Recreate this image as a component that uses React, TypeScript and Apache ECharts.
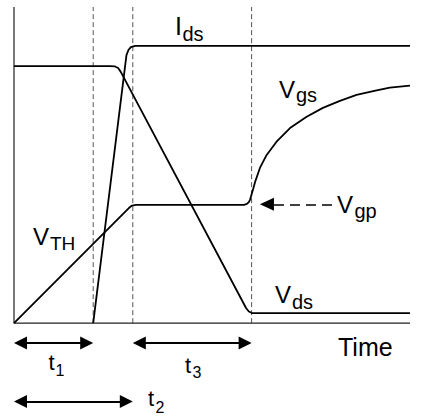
import React, { useEffect, useRef } from "react";
import * as echarts from "echarts";

// ---- data (time units 0..100, level units 0..100) ----
const phaseMarks = [20, 30, 60]; // end of t1, end of t2 (start of t3), end of t3

const vds: [number, number][] = [
  [0, 81.3], [24.2, 81.3], [25.5, 81.2], [26.3, 80.7], [27.0, 79.4],
  [58.6, 4.8], [59.3, 3.7], [60.1, 3.2], [100, 3.2],
];

const ids: [number, number][] = [
  [20, 0], [28.4, 84.8], [28.9, 86.4], [29.5, 87.3], [30.6, 87.7], [100, 87.7],
];

const vgs: [number, number][] = [
  [0, 0], [29.0, 36.4], [29.8, 37.2], [30.8, 37.4], [58.1, 37.4], [58.8, 37.7],
  [59.3, 38.3], [59.6, 39.0], [60.3, 42.0], [60.9, 44.7], [62.1, 49.1], [63.8, 53.2],
  [66.3, 57.4], [69.7, 61.7], [73.9, 65.3], [78.0, 68.1], [82.3, 70.3],
  [86.5, 72.2], [90.7, 73.4], [94.9, 74.5], [100, 75.1],
];

const axisFrame: [number, number][] = [[0, 100], [0, 0], [100, 0]];

const vgpLevel = 37.6;
const vgpArrowFrom = 80.3;
const vgpArrowTo = 62.1;

const spans = [
  { from: 0, to: 20, level: -6.3 },
  { from: 30, to: 60, level: -6.3 },
  { from: 0, to: 30, level: -24.8 },
];

// ---- layout ----
const W = 435, H = 418;
const GRID = { left: 14, right: 25, top: 7, bottom: 0 };
const X_MIN = 0, X_MAX = 100, Y_MIN = -30, Y_MAX = 100;
const pxPerX = (W - GRID.left - GRID.right) / (X_MAX - X_MIN);
const HEAD = 13;
const inset = HEAD / 2 / pxPerX;

const FONT = '"Liberation Sans", Arial, Helvetica, sans-serif';

type Lbl = { text: string; x: number; base: number; fs: number };
const labels: Lbl[] = [
  { text: "I", x: 175, base: 34.5, fs: 25 },
  { text: "ds", x: 182.5, base: 40.5, fs: 20 },
  { text: "V", x: 279, base: 97.5, fs: 24 },
  { text: "gs", x: 296, base: 102, fs: 20 },
  { text: "V", x: 337, base: 213, fs: 24 },
  { text: "gp", x: 354.5, base: 217.5, fs: 20 },
  { text: "V", x: 33, base: 245, fs: 24 },
  { text: "TH", x: 50, base: 250, fs: 19 },
  { text: "V", x: 275, base: 303, fs: 24 },
  { text: "ds", x: 292, base: 309, fs: 20 },
  { text: "Time", x: 338, base: 355.5, fs: 25 },
  { text: "t", x: 48.5, base: 370, fs: 22 },
  { text: "1", x: 55.5, base: 376, fs: 16 },
  { text: "t", x: 185, base: 373, fs: 22 },
  { text: "3", x: 192.5, base: 378, fs: 16 },
  { text: "t", x: 148, base: 406.5, fs: 22 },
  { text: "2", x: 155.5, base: 413, fs: 16 },
];

const curveStyle = { color: "#000", width: 1.8 };

export default function App() {
  const ref = useRef<HTMLDivElement>(null);
  useEffect(() => {
    if (!ref.current) return;
    const chart = echarts.init(ref.current, undefined, { renderer: "svg" });
    const lineSeries = (name: string, data: [number, number][], style: any, z = 3) => ({
      name,
      type: "line",
      data,
      symbol: "none",
      silent: true,
      z,
      lineStyle: style,
    });
    const series: any[] = [
      {
        ...lineSeries("axes", axisFrame, { color: "#222", width: 1.2 }, 2),
        markLine: {
          silent: true,
          animation: false,
          symbolSize: [HEAD, HEAD],
          label: { show: false },
          lineStyle: { color: "#000", width: 1.8, type: "solid" },
          data: [
            ...spans.map((s) => [
              { coord: [s.from + inset, s.level], symbol: "triangle" },
              { coord: [s.to - inset, s.level], symbol: "triangle" },
            ]),
            [
              { coord: [vgpArrowFrom, vgpLevel], symbol: "none" },
              {
                coord: [vgpArrowTo + 14 / 2 / pxPerX, vgpLevel],
                symbol: "triangle",
                symbolSize: [13, 14],
              },
            ],
          ],
        },
      },
      ...phaseMarks.map((t, i) =>
        lineSeries("phase" + i, [[t, 0], [t, 100]], { color: "#555", width: 1, type: [5, 3] }, 1)
      ),
      lineSeries("Vds", vds, curveStyle),
      lineSeries("Ids", ids, curveStyle),
      lineSeries("Vgs", vgs, curveStyle),
    ];
    // Vgp dashed arrow style override
    (series[0].markLine.data[3] as any)[0].lineStyle = { type: [10, 6], width: 1.6 };

    chart.setOption({
      animation: false,
      backgroundColor: "#fff",
      grid: GRID,
      xAxis: { type: "value", min: X_MIN, max: X_MAX, show: false },
      yAxis: { type: "value", min: Y_MIN, max: Y_MAX, show: false },
      series,
      graphic: labels.map((l) => ({
        type: "text",
        x: l.x,
        y: l.base - 0.3465 * l.fs,
        silent: true,
        style: {
          text: l.text,
          fontSize: l.fs,
          fontFamily: FONT,
          fill: "#000",
          align: "left",
          verticalAlign: "middle",
        },
      })),
    });
    return () => chart.dispose();
  }, []);
  return (
    <div
      ref={ref}
      style={{ position: "absolute", left: 0, top: 0, width: W, height: H, background: "#fff" }}
    />
  );
}
